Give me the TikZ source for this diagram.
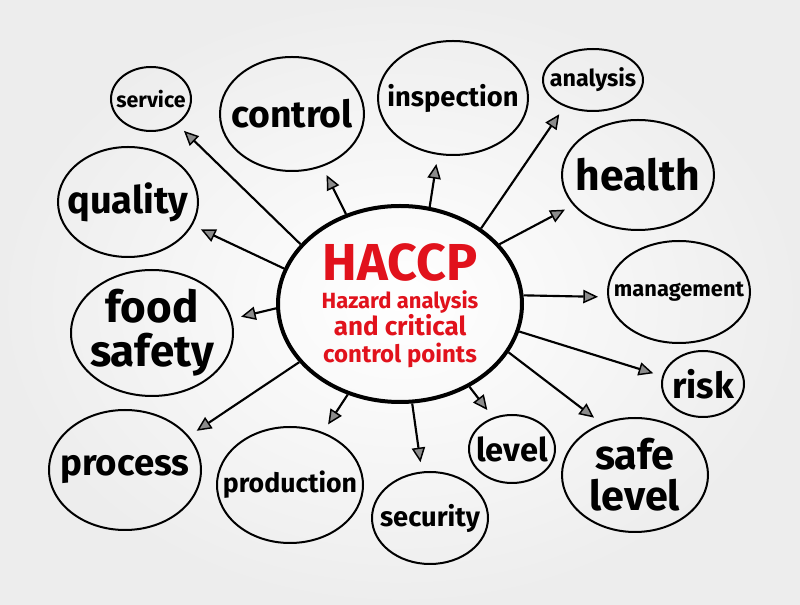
\documentclass[tikz,border=0pt]{standalone}
\usepackage{fontspec}
\setmainfont{Fira Sans}
\usetikzlibrary{shapes.geometric,arrows.meta}

\definecolor{haccpred}{RGB}{225,18,28}
\tikzset{every picture/.style={line width=0.75pt}}
\tikzset{
  bubble/.style 2 args={ellipse, draw, line width=1.5pt, minimum width=#1, minimum height=#2, inner sep=0pt},
  word/.style={font=\bfseries\fontsize{#1}{#1}\selectfont, align=center, inner sep=0pt},
  redword/.style={word=#1, text=haccpred},
  spoke/.style={line width=1.6pt, shorten >=7pt, -{Triangle[length=11pt, width=10pt, line width=1.1pt, fill=black!45]}}
}

\begin{document}
\begin{tikzpicture}[x=0.75pt,y=0.75pt,yscale=-1,xscale=1]
	%Background
	\shade [inner color=white, outer color=black!7] (0,0) rectangle (800,605);
	\useasboundingbox (0,0) rectangle (800,605);
	
	%Shape: Ellipse [center]
	\node [bubble={183pt}{147pt}, line width=3pt,
	  label={[redword=39, yshift=31pt]center:HACCP},
	  label={[redword=18, yshift=-19pt]center:{\fontsize{16.5}{24}\selectfont Hazard analysis\\
	  \fontsize{19.5}{24}\selectfont and critical\\[2pt]
	  \fontsize{18}{24}\selectfont control points}}] (haccp) at (400,304) {};
	
	%Shape: Ellipse [top row]
	\node [bubble={60pt}{48pt}, label={[word=16]center:service}] (service) at (151,99) {};
	\node [bubble={108pt}{85.5pt}, label={[word=28]center:control}] (control) at (292,114) {};
	\node [bubble={112.5pt}{85.5pt}, label={[word=20.5]center:inspection}] (inspection) at (453,98) {};
	\node [bubble={75pt}{46.5pt}, label={[word=17.5]center:analysis}] (analysis) at (593,80) {};
	%Shape: Ellipse [right side]
	\node [bubble={114pt}{82.5pt}, label={[word=32]center:health}] (health) at (638,175) {};
	\node [bubble={106.5pt}{76.5pt}, label={[word=16.4]center:management}] (management) at (679,292) {};
	\node [bubble={61.5pt}{49.5pt}, label={[word=27]center:risk}] (risk) at (703,384) {};
	\node [bubble={109.5pt}{85.5pt}, label={[word=31]center:safe\\level}] (safelevel) at (635,475) {};
	%Shape: Ellipse [bottom row]
	\node [bubble={64.5pt}{51pt}, label={[word=24.5]center:level}] (level) at (512,449) {};
	\node [bubble={87pt}{69pt}, label={[word=20.5]center:security}] (security) at (430,518) {};
	\node [bubble={109.5pt}{87pt}, label={[word=20]center:production}] (production) at (290,485) {};
	\node [bubble={114pt}{90pt}, label={[word=27.5]center:process}] (process) at (125,470) {};
	%Shape: Ellipse [left side]
	\node [bubble={121.5pt}{94.5pt}, label={[word=33]center:food\\safety}] (foodsafety) at (152,333) {};
	\node [bubble={105pt}{82.5pt}, label={[word=28.5]center:quality}] (quality) at (128,202) {};
	
	%Arrows
	\draw [spoke] (haccp.149) -- (service.-44);
	\draw [spoke] (haccp.121) -- (control.-60);
	\draw [spoke] (haccp.73) -- (inspection.-105);
	\draw [spoke] (haccp.43) -- (analysis.-137);
	\draw [spoke] (haccp.31) -- (health.-155);
	\draw [spoke] (haccp.4) -- (management.-176);
	\draw [spoke] (haccp.-13) -- (risk.169);
	\draw [spoke] (haccp.-24) -- (safelevel.123);
	\draw [spoke] (haccp.-50) -- (level.121);
	\draw [spoke] (haccp.-83) -- (security.100);
	\draw [spoke] (haccp.-120) -- (production.58);
	\draw [spoke] (haccp.-150) -- (process.28);
	\draw [spoke] (haccp.-178) -- (foodsafety.10);
	\draw [spoke] (haccp.163) -- (quality.-20);
	
\end{tikzpicture}
\end{document}
